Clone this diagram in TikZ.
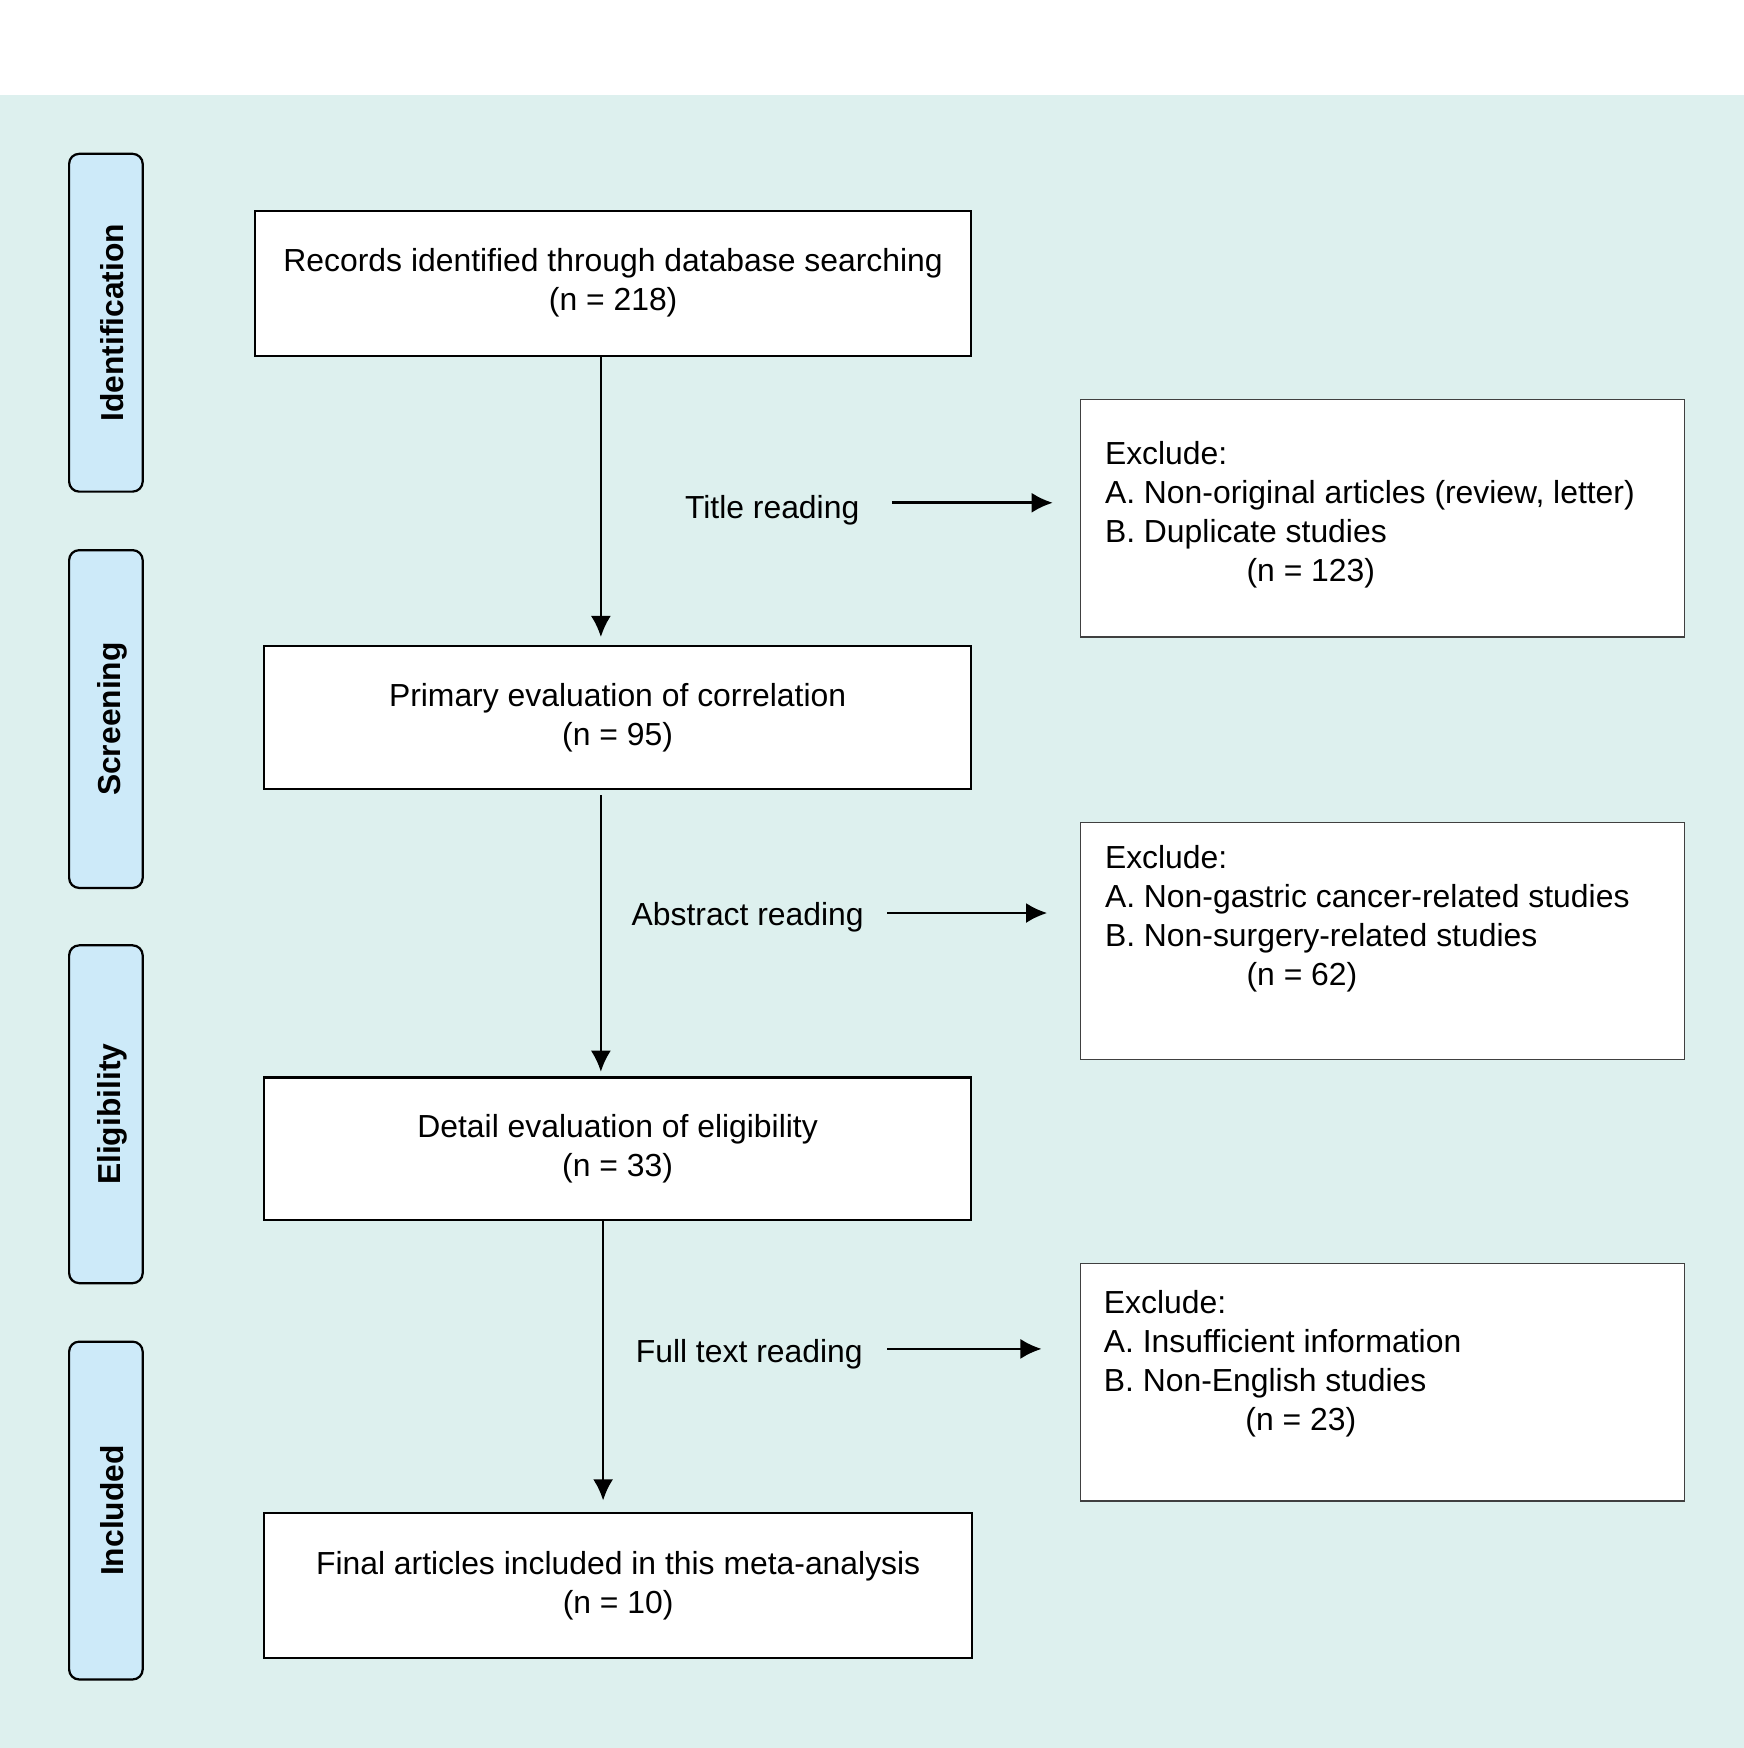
\documentclass[tikz,border=0pt]{standalone}
\usepackage{fontspec}
\setmainfont{Liberation Sans}
\usepackage{xcolor}
\usetikzlibrary{arrows.meta}
\definecolor{bgcyan}{RGB}{221,240,238}
\definecolor{tabblue}{RGB}{205,234,249}

\begin{document}
\begin{tikzpicture}[x=1pt, y=-1pt,
    flowbox/.style={draw=black, line width=2, fill=white, minimum height=128, align=center,
      font=\fontsize{28.6}{35}\selectfont},
    exbox/.style={draw=black!75, line width=1.2, fill=white, minimum width=542, minimum height=213},
    extext/.style={anchor=west, align=left, inner sep=0, font=\fontsize{28.6}{35}\selectfont},
    lbl/.style={anchor=east, inner sep=0, font=\fontsize{28.6}{35}\selectfont},
    tab/.style={draw=black, line width=2, fill=tabblue, rounded corners=9,
      minimum width=66, minimum height=303},
    tabtext/.style={rotate=90, font=\fontsize{28.5}{33}\selectfont\bfseries},
    arr/.style={line width=2.4, -{Latex[length=19,width=18]}}]
  % Draw the background with a white band on top
  \useasboundingbox (0,0) rectangle (1564,1568);
  \fill[white] (0,0) rectangle (1564,85);
  \fill[bgcyan] (0,85) rectangle (1564,1568);

  % Stage tabs on the left
  \node[tab] (tabid) at (95,289.5) {};
  \node[tabtext] at ([xshift=6]tabid.center) {Identification};
  \node[tab] (tabsc) at (95,645) {};
  \node[tabtext] at ([xshift=6]tabsc.center) {Screening};
  \node[tab] (tabel) at (95,999.5) {};
  \node[tabtext] at ([xshift=6]tabel.center) {Eligibility};
  \node[tab] (tabin) at (95,1355) {};
  \node[tabtext] at ([xshift=6]tabin.center) {Included};

  % Main flow
  \node[flowbox, minimum width=642, minimum height=130] (records) at (550,254)
    {Records identified through database searching\\(n = 218)};
  \node[flowbox, minimum width=634] (primary) at (554,643.5)
    {Primary evaluation of correlation\\(n = 95)};
  \node[flowbox, minimum width=634] (detail) at (554,1030.5)
    {Detail evaluation of eligibility\\(n = 33)};
  \node[flowbox, minimum width=635, minimum height=130] (final) at (554.5,1422)
    {Final articles included in this meta-analysis\\(n = 10)};

  \draw[arr, shorten >=7] ([xshift=-11]records.south) -- ([xshift=-15]primary.north);
  \draw[arr, shorten <=5, shorten >=4] ([xshift=-15]primary.south) -- ([xshift=-15]detail.north);
  \draw[arr, shorten >=10] ([xshift=-13]detail.south) -- ([xshift=-13.5]final.north);

  % Exclusion boxes
  \node[exbox] (exA) at (1240,465) {};
  \node[extext] (exAtxt) at (991,462)
    {Exclude:\\A. Non-original articles (review, letter)\\B. Duplicate studies\\\hspace*{127pt}(n = 123)};
  \node[exbox] (exB) at (1240,844) {};
  \node[extext] (exBtxt) at (991,824)
    {Exclude:\\A. Non-gastric cancer-related studies\\B. Non-surgery-related studies\\\hspace*{127pt}(n = 62)};
  \node[exbox] (exC) at (1240,1240) {};
  \node[extext] (exCtxt) at (990,1223)
    {Exclude:\\A. Insufficient information\\B. Non-English studies\\\hspace*{127pt}(n = 23)};

  % Reading steps
  \node[lbl] (title) at (771,458) {Title reading};
  \node[lbl] (abstract) at (775,823) {Abstract reading};
  \node[lbl] (fulltext) at (774,1215) {Full text reading};

  \draw[arr] ([xshift=29,yshift=7]title.east) -- ([xshift=-24,yshift=7]title.east -| exA.west);
  \draw[arr] ([xshift=21,yshift=4]abstract.east) -- ([xshift=-29,yshift=4]abstract.east -| exB.west);
  \draw[arr] ([xshift=22,yshift=5]fulltext.east) -- ([xshift=-34,yshift=5]fulltext.east -| exC.west);
\end{tikzpicture}
\end{document}
